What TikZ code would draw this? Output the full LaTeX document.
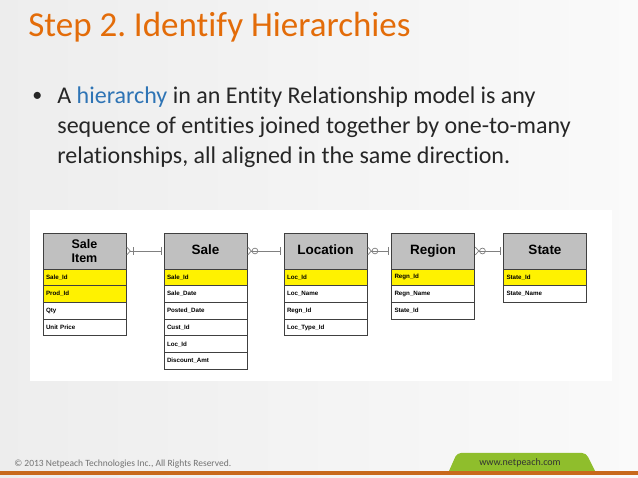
\documentclass[tikz,border=0pt]{standalone}
\usepackage{fontspec}
\setmainfont{Carlito}[Ligatures={NoCommon}]
\newfontfamily\arialfont{Liberation Sans}
\frenchspacing
\usepackage{tikz}
\usetikzlibrary{positioning}
\usetikzlibrary{arrows.meta}
\definecolor{titleorange}{HTML}{E36C09}
\definecolor{hierblue}{HTML}{2E74B5}
\definecolor{bodytext}{HTML}{262626}
\definecolor{tabgreen}{HTML}{8FBE2C}
\definecolor{barorange}{HTML}{C8691C}
\definecolor{headgray}{HTML}{C0C0C0}
\newcommand{\entfont}{\arialfont\bfseries\fontsize{13.5}{15}\selectfont}
\newcommand{\attfont}{\arialfont\bfseries\fontsize{6.2}{7}\selectfont}
\tikzset{
  ent/.style={draw=black!75, fill=headgray, minimum width=83pt, minimum height=36pt, inner sep=0pt, font=\entfont, align=center, text height=9.8pt, text depth=2.6pt},
  key/.style={draw=black!75, fill=yellow, minimum width=83pt, minimum height=16.7pt, inner sep=0pt, text width=77pt, align=left, font=\attfont},
  att/.style={key, fill=white},
  rel/.style={draw=gray, line width=0.7pt},
}

\begin{document}
\begin{tikzpicture}[x=1pt, y=-1pt, line width=0.8pt]
    \useasboundingbox (0,0) rectangle (638,478);
    % slide background
    \shade[left color=black!7, right color=black!2] (0,0) rectangle (638,478);
    \fill[white] (30,210) rectangle (612,381);

    \node (title) [anchor=base west, inner sep=0pt, text=titleorange, font=\fontsize{35}{40}\selectfont] at (28,37) {Step 2. Identify Hierarchies};
    \node (bul) [anchor=base west, inner sep=0pt, text=bodytext, font=\fontsize{20}{30}\selectfont] at (32,102) {\textbullet};
    \node (desc) [anchor=north west, inner sep=0pt, align=left, text=bodytext, font=\fontsize{24}{30}\selectfont] at (57,86)
    {A \textcolor{hierblue}{hierarchy} in an Entity Relationship model is any\\
     sequence of entities joined together by one-to-many\\
     relationships, all aligned in the same direction.};

    % entities
    \node (siH) [ent, text height=, text depth=, font=\entfont\fontsize{12.5}{14}\selectfont] at (84.5,251) {Sale\\Item};
    \node (si1) [key, below of=siH, node distance=26.35pt] {Sale\_Id};
    \node (si2) [key, below of=si1, node distance=16.7pt] {Prod\_Id};
    \node (si3) [att, below of=si2, node distance=16.7pt] {Qty};
    \node (si4) [att, below of=si3, node distance=16.7pt] {Unit Price};

    \node (saH) [ent] at (205.5,251) {Sale};
    \node (sa1) [key, below of=saH, node distance=26.35pt] {Sale\_Id};
    \node (sa2) [att, below of=sa1, node distance=16.7pt] {Sale\_Date};
    \node (sa3) [att, below of=sa2, node distance=16.7pt] {Posted\_Date};
    \node (sa4) [att, below of=sa3, node distance=16.7pt] {Cust\_Id};
    \node (sa5) [att, below of=sa4, node distance=16.7pt] {Loc\_Id};
    \node (sa6) [att, below of=sa5, node distance=16.7pt] {Discount\_Amt};

    \node (loH) [ent] at (325.5,251) {Location};
    \node (lo1) [key, below of=loH, node distance=26.35pt] {Loc\_Id};
    \node (lo2) [att, below of=lo1, node distance=16.7pt] {Loc\_Name};
    \node (lo3) [att, below of=lo2, node distance=16.7pt] {Regn\_Id};
    \node (lo4) [att, below of=lo3, node distance=16.7pt] {Loc\_Type\_Id};

    \node (reH) [ent] at (433,251) {Region};
    \node (re1) [key, below of=reH, node distance=26.35pt] {Regn\_Id};
    \node (re2) [att, below of=re1, node distance=16.7pt] {Regn\_Name};
    \node (re3) [att, below of=re2, node distance=16.7pt] {State\_Id};

    \node (stH) [ent] at (545,251) {State};
    \node (st1) [key, below of=stH, node distance=26.35pt] {State\_Id};
    \node (st2) [att, below of=st1, node distance=16.7pt] {State\_Name};

    % relationships
    \draw[rel, {Straight Barb[reversed,length=3.5pt,width=8pt] Bar[width=8pt,sep=2.5pt]}-{Bar[width=8pt]}, shorten >=1.5pt] (siH.east) -- (saH.west);
    \draw[rel, {Straight Barb[reversed,length=3.5pt,width=8pt] Circle[open,length=6.5pt,sep=0pt]}-{Bar[width=8pt]}, shorten >=2.5pt] (saH.east) -- (loH.west);
    \draw[rel, {Straight Barb[reversed,length=3.5pt,width=8pt] Circle[open,length=6.5pt,sep=0pt]}-{Bar[width=8pt]}, shorten >=2.5pt] (loH.east) -- (reH.west);
    \draw[rel, {Straight Barb[reversed,length=3.5pt,width=8pt] Circle[open,length=6.5pt,sep=0pt]}-{Bar[width=8pt]}, shorten >=2.5pt] (reH.east) -- (stH.west);

    % footer
    \fill[barorange] (0,471) rectangle (638,475);
    \fill[tabgreen] (449,471) [rounded corners=4pt] -- (457,453) -- (586,453) [sharp corners] -- (595,471) -- cycle;
    \node (web) [inner sep=0pt, text=black!80, font=\fontsize{10}{12}\selectfont] at (520,463) {www.netpeach.com};
    \node (copy) [anchor=base west, inner sep=0pt, text=black!55, font=\fontsize{9.5}{11}\selectfont] at (14,467) {\textcopyright\ 2013 Netpeach Technologies Inc., All Rights Reserved.};
\end{tikzpicture}
\end{document}
